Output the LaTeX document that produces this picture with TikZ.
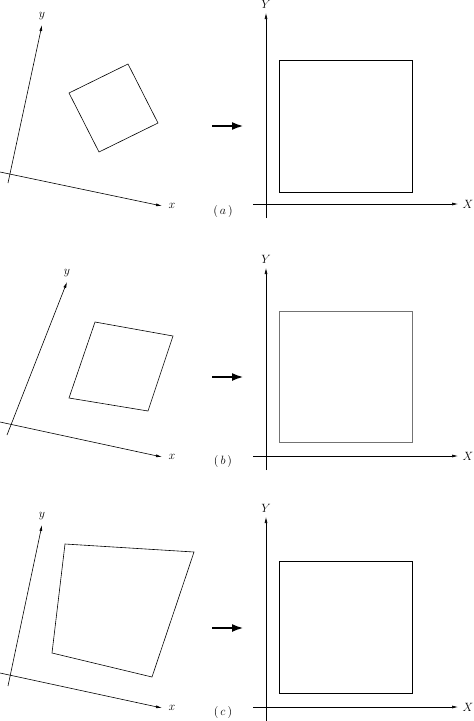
\documentclass[tikz,border=0pt]{standalone}
\usetikzlibrary{arrows.meta}

\begin{document}
\begin{tikzpicture}[x=1pt,y=-1pt,line width=0.6pt,
    axis/.style={-{Latex[length=6pt,width=3pt]}},
    lbl/.style={font=\fontsize{11.5}{13}\selectfont},
    bigarrow/.style={line width=2.5pt,-{Latex[length=12pt,width=8pt]}}]
    \useasboundingbox (0,0) rectangle (474,721);

    % (a) rotated square
    \draw[axis] (0,172) -- (162,206) node[lbl,right=3pt] (xa) {$x$};
    \draw[axis] (8,183) -- (42,25) node[lbl,above=2pt] (ya) {$y$};
    \draw (69,93) -- (128,64) -- (158,123) -- (99,152) -- cycle;
    \draw[bigarrow] (212,126) -- (244,126);
    \draw[axis] (253,204) -- (458,204) node[lbl,right=1pt] (Xa) {$X$};
    \draw[axis] (266,218) -- (266,13) node[lbl,above=1pt] (Ya) {$Y$};
    \draw (279,60) rectangle (412,192);
    \node[lbl] (la) at (223,211) {$(\,a\,)$};

    % (b) skewed square
    \draw[axis] (0,422) -- (162,457) node[lbl,right=3pt] (xb) {$x$};
    \draw[axis] (7,435) -- (67,282) node[lbl,above=2pt] (yb) {$y$};
    \draw (95,322) -- (173,336) -- (148,411) -- (69,398) -- cycle;
    \draw[bigarrow] (212,377) -- (244,377);
    \draw[axis] (253,456) -- (458,456) node[lbl,right=1pt] (Xb) {$X$};
    \draw[axis] (266,470) -- (266,268) node[lbl,above=1pt] (Yb) {$Y$};
    \draw[black!55] (279,311) rectangle (412,442);
    \node[lbl] (lb) at (223,461) {$(\,b\,)$};

    % (c) general quadrilateral
    \draw[axis] (0,673) -- (162,708) node[lbl,right=3pt] (xc) {$x$};
    \draw[axis] (8,686) -- (42,525) node[lbl,above=2pt] (yc) {$y$};
    \draw (65,544) -- (194,552) -- (152,677) -- (52,653) -- cycle;
    \draw[bigarrow] (212,628) -- (244,628);
    \draw[axis] (253,707) -- (458,707) node[lbl,right=1pt] (Xc) {$X$};
    \draw[axis] (266,721) -- (266,517) node[lbl,above=1pt] (Yc) {$Y$};
    \draw (279,561) rectangle (412,693);
    \node[lbl] (lc) at (223,712) {$(\,c\,)$};

\end{tikzpicture}
\end{document}
